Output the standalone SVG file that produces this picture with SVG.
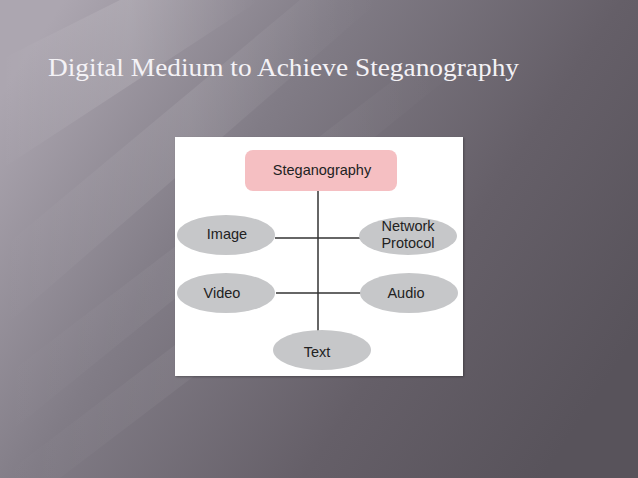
<svg xmlns="http://www.w3.org/2000/svg" width="638" height="478" viewBox="0 0 638 478">
<defs>
<linearGradient id="bg" x1="0" y1="0.2" x2="1" y2="0.7">
<stop offset="0" stop-color="#aca6b0"/>
<stop offset="0.35" stop-color="#817c86"/>
<stop offset="0.7" stop-color="#655f68"/>
<stop offset="1" stop-color="#58535b"/>
</linearGradient>
<linearGradient id="streak" x1="0" y1="0" x2="1" y2="0">
<stop offset="0" stop-color="#fff" stop-opacity="0"/>
<stop offset="0.5" stop-color="#fff" stop-opacity="0.12"/>
<stop offset="1" stop-color="#fff" stop-opacity="0"/>
</linearGradient>
<filter id="sh" x="-5%" y="-5%" width="110%" height="110%">
<feDropShadow dx="1" dy="1" stdDeviation="1" flood-color="#000" flood-opacity="0.3"/>
</filter>
<style>
.t{font-family:"Liberation Sans",Arial,sans-serif;font-size:14.5px;fill:#222;text-anchor:middle}
.e{fill:#c6c7c9}
.c{stroke:#333;stroke-width:1.5;fill:none}
</style>
</defs>
<rect width="638" height="478" fill="url(#bg)"/>
<polygon points="0,60 120,0 260,0 0,170" fill="url(#streak)"/>
<polygon points="0,250 300,0 380,0 0,330" fill="url(#streak)" opacity="0.7"/>
<polygon points="0,380 420,60 470,60 0,440" fill="url(#streak)" opacity="0.5"/>
<polygon points="0,478 300,250 360,250 60,478" fill="url(#streak)" opacity="0.4"/>
<text x="48" y="76" font-family="Liberation Serif,'Times New Roman',serif" font-size="26" fill="#f4f2f6" textLength="471" lengthAdjust="spacingAndGlyphs">Digital Medium to Achieve Steganography</text>
<rect x="175" y="137" width="288" height="239" fill="#fff" filter="url(#sh)"/>
<g id="connectors">
<line class="c" x1="318" y1="191" x2="318" y2="332"/>
<line class="c" x1="275" y1="238" x2="360" y2="238"/>
<line class="c" x1="276" y1="293" x2="362" y2="293"/>
</g>
<g id="steganography">
<rect x="245" y="150" width="152" height="41" rx="8" fill="#f5bfc2"/>
<text class="t" x="322" y="175">Steganography</text>
</g>
<g id="image">
<ellipse class="e" cx="226" cy="235" rx="49" ry="20"/>
<text class="t" x="227" y="239">Image</text>
</g>
<g id="network">
<ellipse class="e" cx="408" cy="236" rx="49" ry="19"/>
<text class="t" x="408" y="231">Network</text>
<text class="t" x="408" y="248">Protocol</text>
</g>
<g id="video">
<ellipse class="e" cx="226" cy="293" rx="49" ry="20"/>
<text class="t" x="222" y="298">Video</text>
</g>
<g id="audio">
<ellipse class="e" cx="409" cy="293" rx="49" ry="20"/>
<text class="t" x="406" y="298">Audio</text>
</g>
<g id="text">
<ellipse class="e" cx="322" cy="350" rx="49" ry="20"/>
<text class="t" x="317" y="357">Text</text>
</g>
</svg>
